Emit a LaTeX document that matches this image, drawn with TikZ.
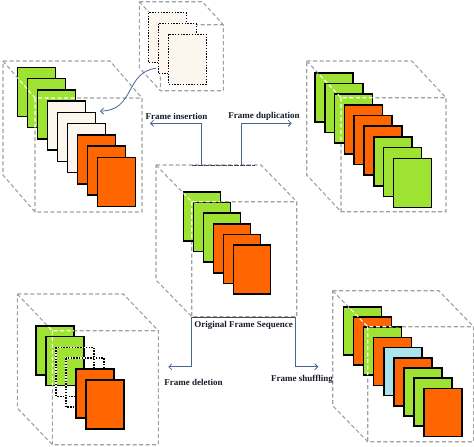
\documentclass[tikz,border=0pt]{standalone}
\usepackage{fontspec}
\setmainfont{Liberation Serif}
\usetikzlibrary{arrows.meta}
\definecolor{fg}{RGB}{158,226,50}
\definecolor{fo}{RGB}{255,102,0}
\definecolor{fc}{RGB}{253,246,238}
\definecolor{fb}{RGB}{170,228,238}
\definecolor{edge}{RGB}{160,160,160}
\definecolor{flowblue}{RGB}{72,100,150}
\definecolor{txt}{RGB}{25,25,40}
% cube: [colour] x y (back top-left), width, height, depth dx dy
\newcommand{\cubebox}[7][edge]{%
  \draw[cube,draw=#1] (#2,#3) -- ++(#4,0) -- ++(#6,#7) -- ++(0,#5) -- ++(-#4,0) -- ++(-#6,-#7) -- cycle;
  \draw[cube,draw=#1] (#2,#3) -- ++(#6,#7) -- ++(#4,0) ++(-#4,0) -- ++(0,#5);}

\begin{document}
\begin{tikzpicture}[x=1pt,y=-1pt]
\tikzstyle{cube}=[dash pattern=on 4pt off 2.5pt, line width=1.1pt]
\tikzstyle{frame}=[draw=black, line width=1.6pt]
\tikzstyle{ghost}=[draw=black, line width=1.4pt, dash pattern=on 1.4pt off 1.4pt,
                   preaction={draw=white, solid, line width=1.4pt}]
\tikzstyle{flow}=[draw=flowblue, line width=0.8pt, -{Straight Barb[length=3pt,width=6pt]}]
\tikzstyle{lbl}=[font=\fontsize{9}{10}\selectfont\bfseries, text=txt, inner sep=0pt]
\useasboundingbox (0,0) rectangle (474,447);

% inserted frames
\cubebox{139.3}{1.7}{63}{66}{21}{23}
\foreach \k in {0,1,2}
  \draw[ghost, fill=fc] ({148.3+10*\k},{12.7+10.8*\k}) rectangle ++(38,50);

% frame insertion
\cubebox{3}{61}{107}{114}{32}{37}
\foreach \c [count=\k from 0] in {fg,fg,fg}
  \draw[frame, fill=\c] ({17.3+10*\k},{67.3+11.25*\k}) rectangle ++(38,49);
\begin{scope}
\clip \foreach \k in {0,1,2} {({17.3+10*\k},{67.3+11.25*\k}) rectangle ++(38,49)};
\cubebox[white]{3}{61}{107}{114}{32}{37}
\end{scope}
\foreach \c [count=\k from 3] in {fc,fc,fc,fo,fo,fo}
  \draw[frame, fill=\c] ({17.3+10*\k},{67.3+11.25*\k}) rectangle ++(38,49);

% frame duplication
\cubebox{306.7}{61}{105}{114}{34.3}{36.7}
\foreach \c [count=\k from 0] in {fg,fg,fg}
  \draw[frame, fill=\c] ({315+9.8*\k},{72.7+10.7*\k}) rectangle ++(38,49);
\begin{scope}
\clip \foreach \k in {0,1,2} {({315+9.8*\k},{72.7+10.7*\k}) rectangle ++(38,49)};
\cubebox[white]{306.7}{61}{105}{114}{34.3}{36.7}
\end{scope}
\foreach \c [count=\k from 3] in {fo,fo,fo,fg,fg,fg}
  \draw[frame, fill=\c] ({315+9.8*\k},{72.7+10.7*\k}) rectangle ++(38,49);

% original sequence
\cubebox{156}{165}{105}{115}{35.7}{36.7}
\foreach \c [count=\k from 0] in {fg,fg,fg}
  \draw[frame, fill=\c] ({183.3+10*\k},{191.7+10.7*\k}) rectangle ++(37,49);
\begin{scope}
\clip \foreach \k in {0,1,2} {({183.3+10*\k},{191.7+10.7*\k}) rectangle ++(37,49)};
\cubebox[white]{156}{165}{105}{115}{35.7}{36.7}
\end{scope}
\foreach \c [count=\k from 3] in {fo,fo,fo}
  \draw[frame, fill=\c] ({183.3+10*\k},{191.7+10.7*\k}) rectangle ++(37,49);

% frame deletion
\cubebox{17.3}{294}{106}{114}{35}{36.7}
\foreach \c [count=\k from 0] in {fg,fg}
  \draw[frame, fill=\c] ({36+10*\k},{325.7+10.8*\k}) rectangle ++(38,49);
\begin{scope}
\clip \foreach \k in {0,1} {({36+10*\k},{325.7+10.8*\k}) rectangle ++(38,49)};
\cubebox[white]{17.3}{294}{106}{114}{35}{36.7}
\end{scope}
\foreach \k in {2,3}
  \draw[ghost] ({36+10*\k},{325.7+10.8*\k}) rectangle ++(38,49);
\foreach \c [count=\k from 4] in {fo,fo}
  \draw[frame, fill=\c] ({36+10*\k},{325.7+10.8*\k}) rectangle ++(38,49);

% frame shuffling
\cubebox{332.7}{290.7}{106}{115}{35}{36}
\foreach \c [count=\k from 0] in {fg,fo,fg}
  \draw[frame, fill=\c] ({343.3+10.1*\k},{306.7+10.2*\k}) rectangle ++(38,48);
\begin{scope}
\clip \foreach \k in {0,1,2} {({343.3+10.1*\k},{306.7+10.2*\k}) rectangle ++(38,48)};
\cubebox[white]{332.7}{290.7}{106}{115}{35}{36}
\end{scope}
\foreach \c [count=\k from 3] in {fo,fb,fo,fg,fg,fo}
  \draw[frame, fill=\c] ({343.3+10.1*\k},{306.7+10.2*\k}) rectangle ++(38,48);

% connectors
\coordinate (topL) at (191.7,165);
\coordinate (topR) at (255,165);
\coordinate (insA) at (201.7,165);
\coordinate (insB) at (150,123.3);
\coordinate (dupA) at (241,165);
\coordinate (dupB) at (291.7,123.3);
\coordinate (delA) at (191.7,317);
\coordinate (delB) at (168.3,366.7);
\coordinate (shuA) at (295.7,317);
\coordinate (shuB) at (318.3,366.7);
\coordinate (cs) at (156,68.3);
\coordinate (ce) at (100,111);
\draw[draw=txt!80, line width=1pt, dash pattern=on 5pt off 1pt] (topL) -- (topR);
\draw[flow] (insA) |- (insB);
\draw[flow] (dupA) |- (dupB);
\draw[draw=txt!80, line width=1pt] (delA) -- (shuA);
\draw[flow] (delA) |- (delB);
\draw[flow] (shuA) |- (shuB);
\draw[flow] (cs) .. controls (125,72) and (135,111) .. (ce);

\node[lbl] (ins) at (176.5,116) {Frame insertion};
\node[lbl] (dup) at (264,116) {Frame duplication};
\node[lbl] (orig) at (243.5,325.5) {Original Frame Sequence};
\node[lbl] (del) at (193.5,382) {Frame deletion};
\node[lbl] (shu) at (302,379) {Frame shuffling};
\end{tikzpicture}
\end{document}
